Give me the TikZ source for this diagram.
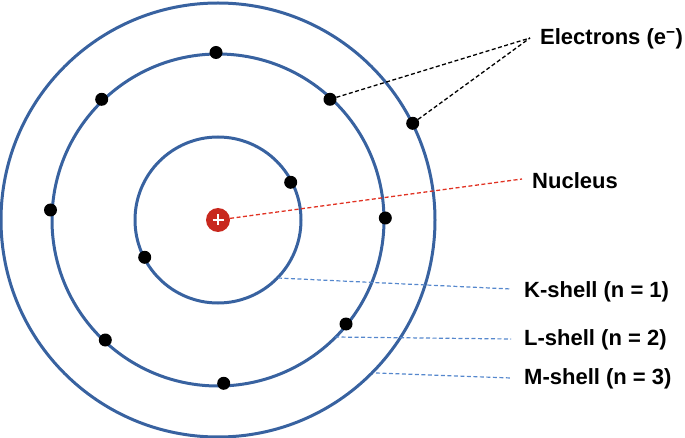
\documentclass[tikz,border=0pt]{standalone}
\usepackage{fontspec}
\setmainfont{Liberation Sans}
\usetikzlibrary{calc}
\definecolor{shellblue}{RGB}{56,98,160}
\definecolor{labelblue}{RGB}{85,135,205}
\definecolor{nucred}{RGB}{200,40,30}
\definecolor{linered}{RGB}{225,50,35}
\begin{document}
\begin{tikzpicture}[x=1pt,y=-1pt,
  shell/.style={draw=shellblue,line width=3pt},
  electron/.style={circle,fill=black,minimum size=13pt,inner sep=0pt},
  lbl/.style={anchor=west,font=\fontsize{22}{24}\selectfont\bfseries,inner sep=0pt},
  edash/.style={draw=black,line width=1.3pt,dash pattern=on 4pt off 2.5pt},
  ndash/.style={draw=linered,line width=1.3pt,dash pattern=on 4pt off 2.5pt},
  sdash/.style={draw=labelblue,line width=1.2pt,dash pattern=on 4pt off 2.5pt}]
\useasboundingbox (0,0) rectangle (685,438);
\coordinate (c) at (218,220);
\draw[shell] (c) circle[radius=83];
\draw[shell] (c) circle[radius=166];
\draw[shell] (c) circle[radius=217];
% nucleus
\node[circle,fill=nucred,minimum size=24pt,inner sep=0pt] (nuc) at (c) {};
\draw[white,line width=2.5pt] ($(nuc)+(-5.5,0)$) -- ($(nuc)+(5.5,0)$);
\draw[white,line width=2.5pt] ($(nuc)+(0,-5.5)$) -- ($(nuc)+(0,5.5)$);
% electrons
\node[electron] (e1) at (216,52.5) {};
\node[electron] (e2) at (101.7,99.3) {};
\node[electron] (e3) at (330,99.3) {};
\node[electron] (e4) at (412.7,123.3) {};
\node[electron] (e5) at (50.5,210) {};
\node[electron] (e6) at (385.3,218) {};
\node[electron] (e7) at (290.7,182.3) {};
\node[electron] (e8) at (144.7,257.3) {};
\node[electron] (e9) at (346,324) {};
\node[electron] (e10) at (105.3,340) {};
\node[electron] (e11) at (223.7,383.3) {};
% labels
\node[lbl] (tel) at (540,39) {Electrons (e\textsuperscript{\char"2212})};
\node[lbl] (tnu) at (532,181) {Nucleus};
\node[lbl] (tk) at (524,292) {K-shell (n = 1)};
\node[lbl] (tl) at (524,340) {L-shell (n = 2)};
\node[lbl] (tm) at (524,379) {M-shell (n = 3)};
% connectors
\coordinate (econv) at (530,38);
\draw[edash] (e3) -- (econv);
\draw[edash] (e4) -- (econv);
\coordinate (nend) at (522,179);
\draw[ndash] (nuc) -- (nend);
\coordinate (ks) at (278,278);
\coordinate (ke) at (511,289);
\coordinate (ls) at (335,337);
\coordinate (le) at (511,339);
\coordinate (ms) at (376,373);
\coordinate (me) at (511,378);
\draw[sdash] (ks) -- (ke);
\draw[sdash] (ls) -- (le);
\draw[sdash] (ms) -- (me);
\end{tikzpicture}
\end{document}
